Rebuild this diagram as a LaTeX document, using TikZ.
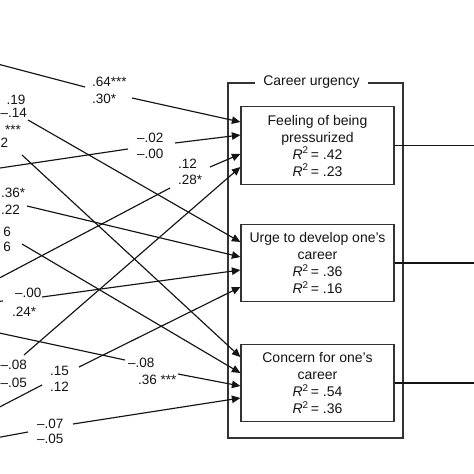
\documentclass[tikz,border=0pt]{standalone}
\usepackage{fontspec}
\setmainfont{Liberation Sans}
\usetikzlibrary{arrows.meta}
\definecolor{linec}{HTML}{141414}
\definecolor{boxc}{HTML}{333333}
\begin{document}
\begin{tikzpicture}[x=1pt,y=-1pt,
  lbl/.style={inner sep=0pt, font=\fontsize{13.5}{16}\selectfont, text height=9.7pt, text depth=0pt, text=linec},
  bx/.style={draw=boxc, line width=1.2pt, minimum width=153pt, minimum height=77.5pt, align=center, font=\fontsize{14}{17}\selectfont, inner sep=0pt, text=linec},
  arr/.style={draw=linec, line width=1.15pt, -{Triangle[length=8.5pt,width=7.5pt]}},
  ln/.style={draw=linec, line width=1.15pt}]
\path[use as bounding box] (0,0) rectangle (474,474);
\clip (0,0) rectangle (474,474);
\fill[white] (0,0) rectangle (474,474);

% outer group box
\node[draw=boxc, line width=1.2pt, minimum width=175pt, minimum height=355pt, inner sep=0pt] (outer) at (315.5,260.5) {};
\node[fill=white, inner xsep=8pt, inner ysep=2pt, font=\fontsize{14}{17}\selectfont, text=linec] (title) at ([xshift=-4pt]outer.north) {Career urgency};

% construct boxes
\node[bx] (b1) at (317.5,145.5) {Feeling of being\\pressurized\\\textit{R}\textsuperscript{2}\,= .42\\\textit{R}\textsuperscript{2}\,= .23};
\node[bx] (b2) at (317.5,263) {Urge to develop one’s\\career\\\textit{R}\textsuperscript{2}\,= .36\\\textit{R}\textsuperscript{2}\,= .16};
\node[bx] (b3) at (317.5,383) {Concern for one’s\\career\\\textit{R}\textsuperscript{2}\,= .54\\\textit{R}\textsuperscript{2}\,= .36};

% right outgoing lines
\coordinate (r1) at (490,145.5);
\coordinate (r2) at (490,263);
\coordinate (r3) at (490,383);
\draw[ln] (b1) -- (r1);
\draw[ln] (b2) -- (r2);
\draw[ln] (b3) -- (r3);

% coefficient labels
\node[lbl, anchor=west] (t1) at (92,82) {.64***};
\node[lbl, anchor=west] (t2) at (92,99) {.30*};
\node[lbl, anchor=west] (t3) at (137,138) {–.02};
\node[lbl, anchor=west] (t4) at (137,154) {–.00};
\node[lbl, anchor=west] (t5) at (178,164) {.12};
\node[lbl, anchor=west] (t6) at (178,180) {.28*};
\node[lbl, anchor=east] (t7) at (25.5,100) {.19};
\node[lbl, anchor=west] (t8) at (0.5,113) {–.14};
\node[lbl, anchor=west] (t9) at (5,130) {***};
\node[lbl, anchor=west] (t10) at (0.5,143) {2};
\node[lbl, anchor=west] (t11) at (1,193) {.36*};
\node[lbl, anchor=west] (t12) at (1,210) {.22};
\node[lbl, anchor=east] (t13) at (11,232) {6};
\node[lbl, anchor=east] (t14) at (11,247) {6};
\node[lbl, anchor=west] (t15) at (15,293) {–.00};
\node[lbl, anchor=west] (t16) at (12,312) {.24*};
\node[lbl, anchor=west] (t17) at (0.5,365) {–.08};
\node[lbl, anchor=west] (t18) at (0.5,383) {–.05};
\node[lbl, anchor=west] (t19) at (50,371) {.15};
\node[lbl, anchor=west] (t20) at (50,387) {.12};
\node[lbl, anchor=west] (t21) at (128,363) {–.08};
\node[lbl, anchor=west] (t22) at (138,380) {.36 ***};
\node[lbl, anchor=west] (t23) at (37,424) {–.07};
\node[lbl, anchor=west] (t24) at (37,439) {–.05};

% path points
\coordinate (p1a) at (-10,62);   \coordinate (p1b) at (85,87);   \coordinate (p1c) at (132,98);
\coordinate (p2a) at (-10,169.5);\coordinate (p2b) at (128,149); \coordinate (p2c) at (175,143);
\coordinate (p3a) at (-10,283);  \coordinate (p3b) at (170,188); \coordinate (p3c) at (210,167);
\coordinate (p4) at (24,355);
\coordinate (p5) at (28,120);
\coordinate (p6) at (27,206);
\coordinate (p7a) at (-10,302);  \coordinate (p7b) at (3,301);   \coordinate (p7c) at (42,297);
\coordinate (p8a) at (-10,412);  \coordinate (p8b) at (42,385);  \coordinate (p8c) at (79,367);
\coordinate (p9) at (22,155);
\coordinate (p10) at (22,244);
\coordinate (p11a) at (-10,331); \coordinate (p11b) at (125,360);\coordinate (p11c) at (178,374);
\coordinate (p12a) at (-10,439); \coordinate (p12b) at (28,432); \coordinate (p12c) at (73,424);

% into box 1
\draw[ln] (p1a) -- (p1b);  \draw[arr] (p1c) -- (b1.west |- 0,122);
\draw[ln] (p2a) -- (p2b);  \draw[arr] (p2c) -- (b1.west |- 0,135);
\draw[ln] (p3a) -- (p3b);  \draw[arr] (p3c) -- (b1.west |- 0,154);
\draw[arr] (p4) -- (b1.west |- 0,167);
% into box 2
\draw[arr] (p5) -- (b2.west |- 0,242);
\draw[arr] (p6) -- (b2.west |- 0,257);
\draw[ln] (p7a) -- (p7b);  \draw[arr] (p7c) -- (b2.west |- 0,270);
\draw[ln] (p8a) -- (p8b);  \draw[arr] (p8c) -- (b2.west |- 0,287);
% into box 3
\draw[arr] (p9) -- (b3.west |- 0,357);
\draw[arr] (p10) -- (b3.west |- 0,373);
\draw[ln] (p11a) -- (p11b); \draw[arr] (p11c) -- (b3.west |- 0,386);
\draw[ln] (p12a) -- (p12b); \draw[arr] (p12c) -- (b3.west |- 0,398);
\end{tikzpicture}
\end{document}
